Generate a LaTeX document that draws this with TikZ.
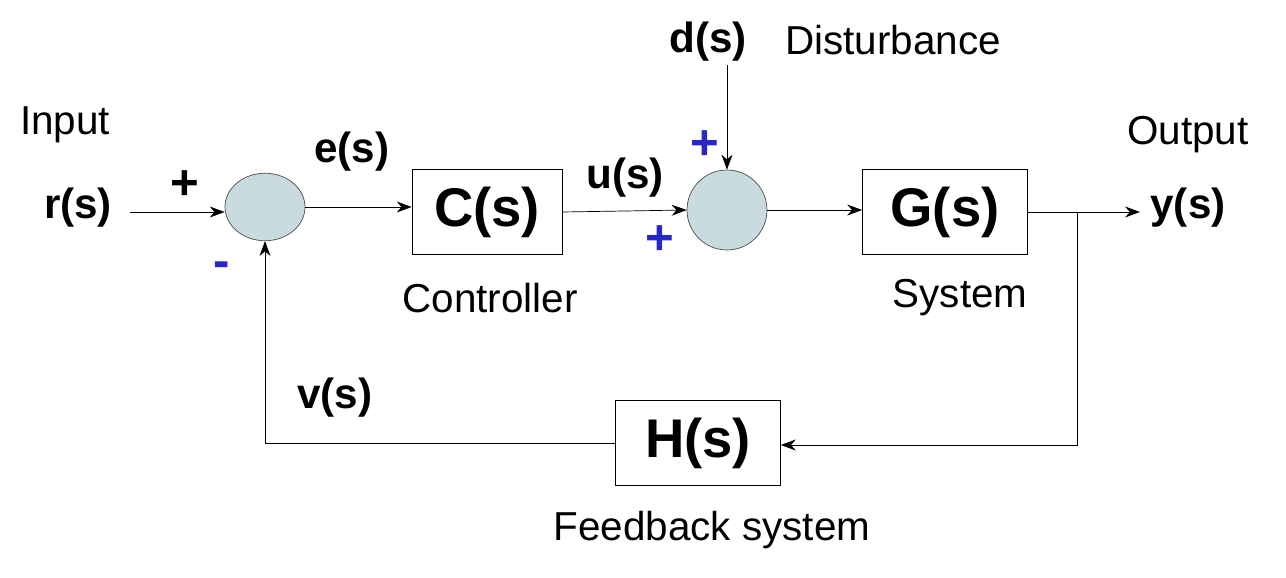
\documentclass[tikz,border=0pt]{standalone}
\usepackage{fontspec}
\setmainfont{Liberation Sans}
\usetikzlibrary{positioning, arrows.meta, shapes.geometric}
\definecolor{sumfill}{RGB}{200,220,224}
\definecolor{signblue}{RGB}{40,40,200}
\tikzset{
    block_node/.style={rectangle, minimum width=3cm, minimum height=1.7cm, text centered, draw=black, font=\fontsize{31}{34}\selectfont\bfseries},
    sum_node/.style={ellipse, draw=black!70, fill=sumfill, minimum width=1.6cm, minimum height=1.35cm},
    sig_text/.style={font=\fontsize{24}{26}\selectfont\bfseries},
    name_text/.style={font=\fontsize{23}{25}\selectfont},
    sign_text/.style={font=\fontsize{28}{30}\selectfont\bfseries},
    arrow/.style={->, >={Stealth[length=3mm,width=2.2mm]}},
    line/.style={thin},
}
\begin{document}
\begin{tikzpicture}[x=0.02cm, y=-0.02cm]
            \useasboundingbox (0,0) rectangle (1286,578);
            %%%%%%%%%%%%%%%%
            % FORWARD PATH %
            %%%%%%%%%%%%%%%%
            \node (sum_in) [sum_node] at (265,207) {};
            \node (controller) [block_node] at (487,212) {C(s)};
            \node (sum_dist) [sum_node, minimum width=1.6cm, minimum height=1.6cm] at (727,210) {};
            \node (system) [block_node, minimum width=3.3cm] at (945,212) {G(s)};
            \node (feedback) [block_node, minimum width=3.3cm] at (698,443) {H(s)};

            \coordinate (input_start) at (130,212);
            \coordinate (dist_start) at (727,65);
            \coordinate (output_end) at (1140,212);
            \coordinate (branch) at (1077,212);
            \coordinate (branch_low) at (1077,445);
            \coordinate (back_corner) at (265,443);

            \draw [arrow] (input_start) -- (input_start -| sum_in.west);
            \draw [arrow] (sum_in.east) -- (controller.west |- sum_in.east);
            \draw [arrow] (controller.east) -- (sum_dist.west);
            \draw [arrow] (dist_start) -- (sum_dist.north);
            \draw [arrow] (sum_dist.east) -- (system.west |- sum_dist.east);
            \draw [arrow] (system.east) -- (output_end);

            %%%%%%%%%%%%%%%%%
            % FEEDBACK PATH %
            %%%%%%%%%%%%%%%%%
            \draw [arrow] (branch) -- (branch_low) -- (feedback.east |- branch_low);
            \draw [arrow] (feedback.west) -- (back_corner) -- (sum_in.south);

            %%%%%%%%%%
            % LABELS %
            %%%%%%%%%%
            \node (lbl_input) [name_text] at (65,125) {Input};
            \node (lbl_r) [sig_text] at (78,208) {r(s)};
            \node (lbl_plus_in) [sign_text] at (185,185) {+};
            \node (lbl_minus_in) [sign_text, text=signblue] at (222,270) {-};
            \node (lbl_e) [sig_text] at (352,152) {e(s)};
            \node (lbl_u) [sig_text] at (625,178) {u(s)};
            \node (lbl_plus_top) [sign_text, text=signblue] at (705,145) {+};
            \node (lbl_plus_left) [sign_text, text=signblue] at (660,240) {+};
            \node (lbl_d) [sig_text] at (708,42) {d(s)};
            \node (lbl_dist) [name_text] at (893,40) {Disturbance};
            \node (lbl_output) [name_text] at (1188,135) {Output};
            \node (lbl_y) [sig_text] at (1188,208) {y(s)};
            \node (lbl_v) [sig_text] at (335,398) {v(s)};
            \node (lbl_controller) [name_text] at (490,298) {Controller};
            \node (lbl_system) [name_text] at (960,298) {System};
            \node (lbl_feedback) [name_text] at (712,530) {Feedback system};
\end{tikzpicture}
\end{document}
